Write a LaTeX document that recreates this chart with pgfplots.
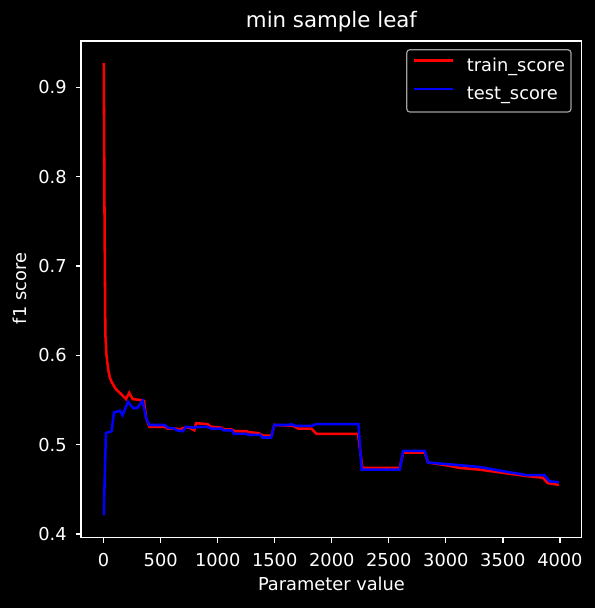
\documentclass[border=0pt]{standalone}
\usepackage{fontspec}
\setmainfont{DejaVu Sans}
\usepackage{pgfplots}
\pgfplotsset{compat=1.18}

\definecolor{legedge}{RGB}{160,160,160}
\newcommand{\lblfont}{\fontsize{13.35}{16}\selectfont}
\newcommand{\ttlfont}{\fontsize{16}{19}\selectfont}

\begin{document}
\begin{tikzpicture}
  \fill[black] (0pt,0pt) rectangle (446.25pt,456pt);

  \begin{axis}[
      at={(60.75pt,53pt)},
      anchor=south west,
      scale only axis,
      width=375.5pt,
      height=372.2pt,
      xmin=-198.5, xmax=4190.5,
      ymin=0.3963, ymax=0.9516,
      xtick={0,500,...,4000},
      ytick={0.4,0.5,0.6,0.7,0.8,0.9},
      scaled ticks=false,
      axis line style={white, line width=0.95pt},
      tick style={white, line width=0.95pt},
      major tick length=4.1pt,
      tick align=outside,
      xtick pos=bottom,
      ytick pos=left,
      /pgf/number format/assume math mode=true,
      xticklabel style={font=\lblfont, text=white, inner sep=0pt, anchor=north, yshift=-8pt,
        /pgf/number format/.cd, fixed, 1000 sep={}},
      yticklabel style={font=\lblfont, text=white, inner sep=0pt, anchor=east, xshift=-6.5pt,
        /pgf/number format/.cd, fixed, precision=1, fixed zerofill},
      legend cell align=left,
      legend style={
        at={(1,1)}, anchor=north east, xshift=-7.5pt, yshift=-6pt,
        fill=black, draw=legedge, line width=0.9pt, rounded corners=2.5pt,
        text=white, font=\lblfont,
        inner xsep=4.5pt, inner ysep=6.3pt, row sep=8.2pt,
        nodes={inner sep=0pt, text height=10pt, text depth=3pt},
      },
      legend image code/.code={
        \draw[#1] (0pt,4.5pt) -- (29.25pt,4.5pt);
        \path (38.75pt,0pt);
      },
    ]

    \addplot[red, line width=1.9pt] coordinates {
      (1,0.927) (8,0.75) (15,0.623) (25,0.600) (41,0.583) (55,0.575) (70,0.570)
      (108,0.562) (158,0.556) (195,0.551) (224,0.558) (255,0.551) (318,0.550)
      (354,0.549) (372,0.530) (401,0.520) (533,0.520) (562,0.518) (635,0.518)
      (664,0.517) (707,0.519) (751,0.519) (795,0.516) (810,0.524) (912,0.523)
      (941,0.520) (1035,0.519) (1050,0.517) (1123,0.517) (1152,0.515)
      (1254,0.515) (1269,0.514) (1356,0.513) (1400,0.510) (1473,0.510)
      (1496,0.522) (1662,0.521) (1706,0.518) (1822,0.518) (1866,0.512)
      (2230,0.512) (2268,0.474) (2596,0.474) (2625,0.491) (2815,0.491)
      (2844,0.480) (3000,0.477) (3121,0.474) (3300,0.472) (3471,0.469)
      (3700,0.465) (3850,0.463) (3893,0.457) (3990,0.455)
    };
    \addlegendentry{train\_score}

    \addplot[blue, line width=1.9pt] coordinates {
      (1,0.421) (20,0.513) (70,0.515) (90,0.536) (143,0.538) (166,0.533)
      (214,0.548) (258,0.541) (294,0.541) (342,0.549) (372,0.530) (401,0.522)
      (533,0.522) (562,0.519) (620,0.518) (641,0.516) (694,0.515) (722,0.520)
      (795,0.519) (815,0.520) (912,0.520) (941,0.518) (1035,0.518) (1050,0.516)
      (1123,0.516) (1143,0.512) (1254,0.512) (1269,0.511) (1371,0.511)
      (1394,0.508) (1469,0.508) (1496,0.522) (1630,0.522) (1645,0.523)
      (1662,0.522) (1683,0.521)
      (1823,0.521) (1860,0.523) (2233,0.523) (2262,0.472) (2596,0.472)
      (2625,0.493) (2815,0.493) (2844,0.480) (3121,0.477) (3296,0.475)
      (3471,0.471) (3704,0.466) (3864,0.466) (3908,0.459) (3990,0.458)
    };
    \addlegendentry{test\_score}
  \end{axis}

  \node[font=\ttlfont, text=white, anchor=base, inner sep=0pt] at (248.6pt,435pt) {min sample leaf};
  \node[font=\lblfont, text=white, anchor=base, inner sep=0pt] at (248.6pt,12.9pt) {Parameter value};
  \node[font=\lblfont, text=white, anchor=base, inner sep=0pt, rotate=90] at (19.9pt,239.6pt) {f1 score};

  \pgfresetboundingbox
  \path[use as bounding box] (0pt,0pt) rectangle (446.25pt,456pt);
\end{tikzpicture}
\end{document}
